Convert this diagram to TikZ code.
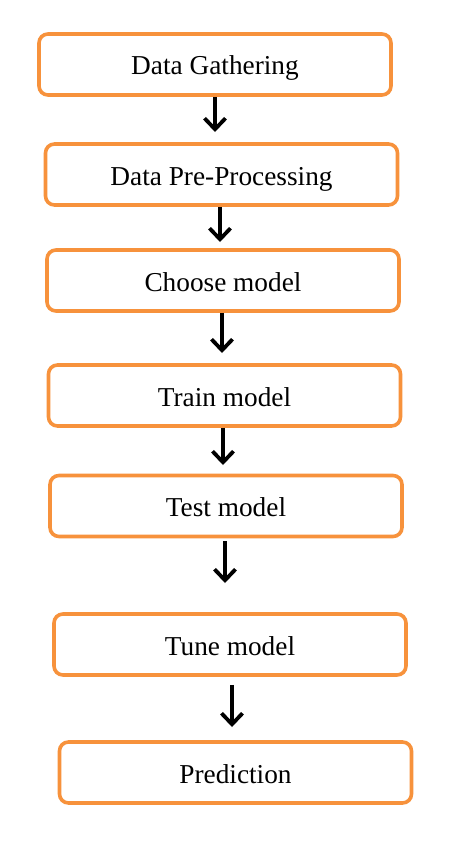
\documentclass[tikz,border=0pt]{standalone}
\usepackage{fontspec}
\setmainfont{Liberation Serif}
\usetikzlibrary{arrows.meta}
\definecolor{boxorange}{RGB}{247,146,60}
\tikzset{
  stepbox/.style={draw=boxorange, line width=3.6pt, rounded corners=9pt, fill=white,
    minimum width=352pt, minimum height=61pt, inner sep=0pt,
    text height=21pt, text depth=0pt,
    font=\fontsize{27.3pt}{32pt}\selectfont, text=black},
  arr/.style={line width=3.8pt, black, -{Straight Barb[length=11pt,width=21pt]}},
}
\begin{document}
\begin{tikzpicture}[x=1pt,y=-1pt]
\useasboundingbox[fill=white] (0,0) rectangle (456,848);
\node[stepbox] (b1) at (215,64.5) {Data Gathering};
\node[stepbox] (b2) at (221.5,174.5) {Data Pre-Processing};
\node[stepbox] (b3) at (223,280.5) {Choose model};
\node[stepbox] (b4) at (224.5,395.5) {Train model};
\node[stepbox] (b5) at (226,506) {Test model};
\node[stepbox] (b6) at (230,644.5) {Tune model};
\node[stepbox] (b7) at (235.5,772.5) {Prediction};
\coordinate (e1) at (215,132);
\coordinate (e2) at (220,242);
\coordinate (e3) at (222,353);
\coordinate (e4) at (223,465);
\coordinate (e5) at (225,583);
\coordinate (e6) at (232,727);
\draw[arr] (b1.south -| e1) -- (e1);
\draw[arr] (b2.south -| e2) -- (e2);
\draw[arr] (b3.south -| e3) -- (e3);
\draw[arr] (b4.south -| e4) -- (e4);
\draw[arr] ([yshift=-3pt]b5.south -| e5) -- (e5);
\draw[arr] ([yshift=-8pt]b6.south -| e6) -- (e6);
\end{tikzpicture}
\end{document}
